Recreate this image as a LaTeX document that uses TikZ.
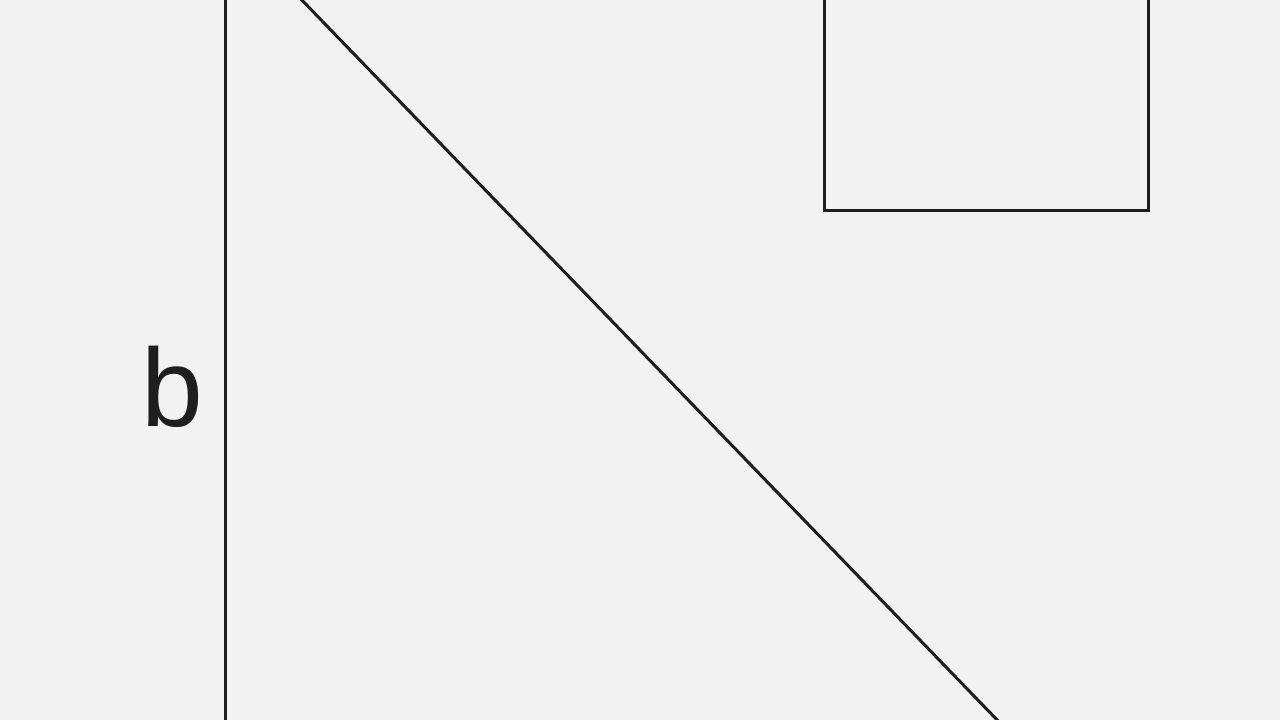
\documentclass[tikz,border=0pt]{standalone}
\usepackage{fontspec}
\setmainfont{Liberation Sans}
\definecolor{bg}{HTML}{F2F2F2}
\definecolor{ink}{HTML}{1E1E1E}
\begin{document}
\begin{tikzpicture}[x=1pt,y=-1pt,
  edge/.style={draw=ink,line width=3pt},
  lbl/.style={text=ink,inner sep=0pt,anchor=base,font=\fontsize{111}{111}\selectfont}]
\fill[bg] (0,0) rectangle (1280,720);
\useasboundingbox (0,0) rectangle (1280,720);
\coordinate (vtop) at (225,-5);
\coordinate (vbot) at (225,725);
\coordinate (dtop) at (297,-5);
\coordinate (dbot) at (1002,725);
\coordinate (sq1) at (824,-5);
\coordinate (sq2) at (824,210);
\coordinate (sq3) at (1148,210);
\coordinate (sq4) at (1148,-5);
\draw[edge] (vtop) -- (vbot);
\draw[edge] (dtop) -- (dbot);
\draw[edge] (sq1) -- (sq2) -- (sq3) -- (sq4);
\node[lbl] (b) at (172,426) {b};
\end{tikzpicture}
\end{document}
